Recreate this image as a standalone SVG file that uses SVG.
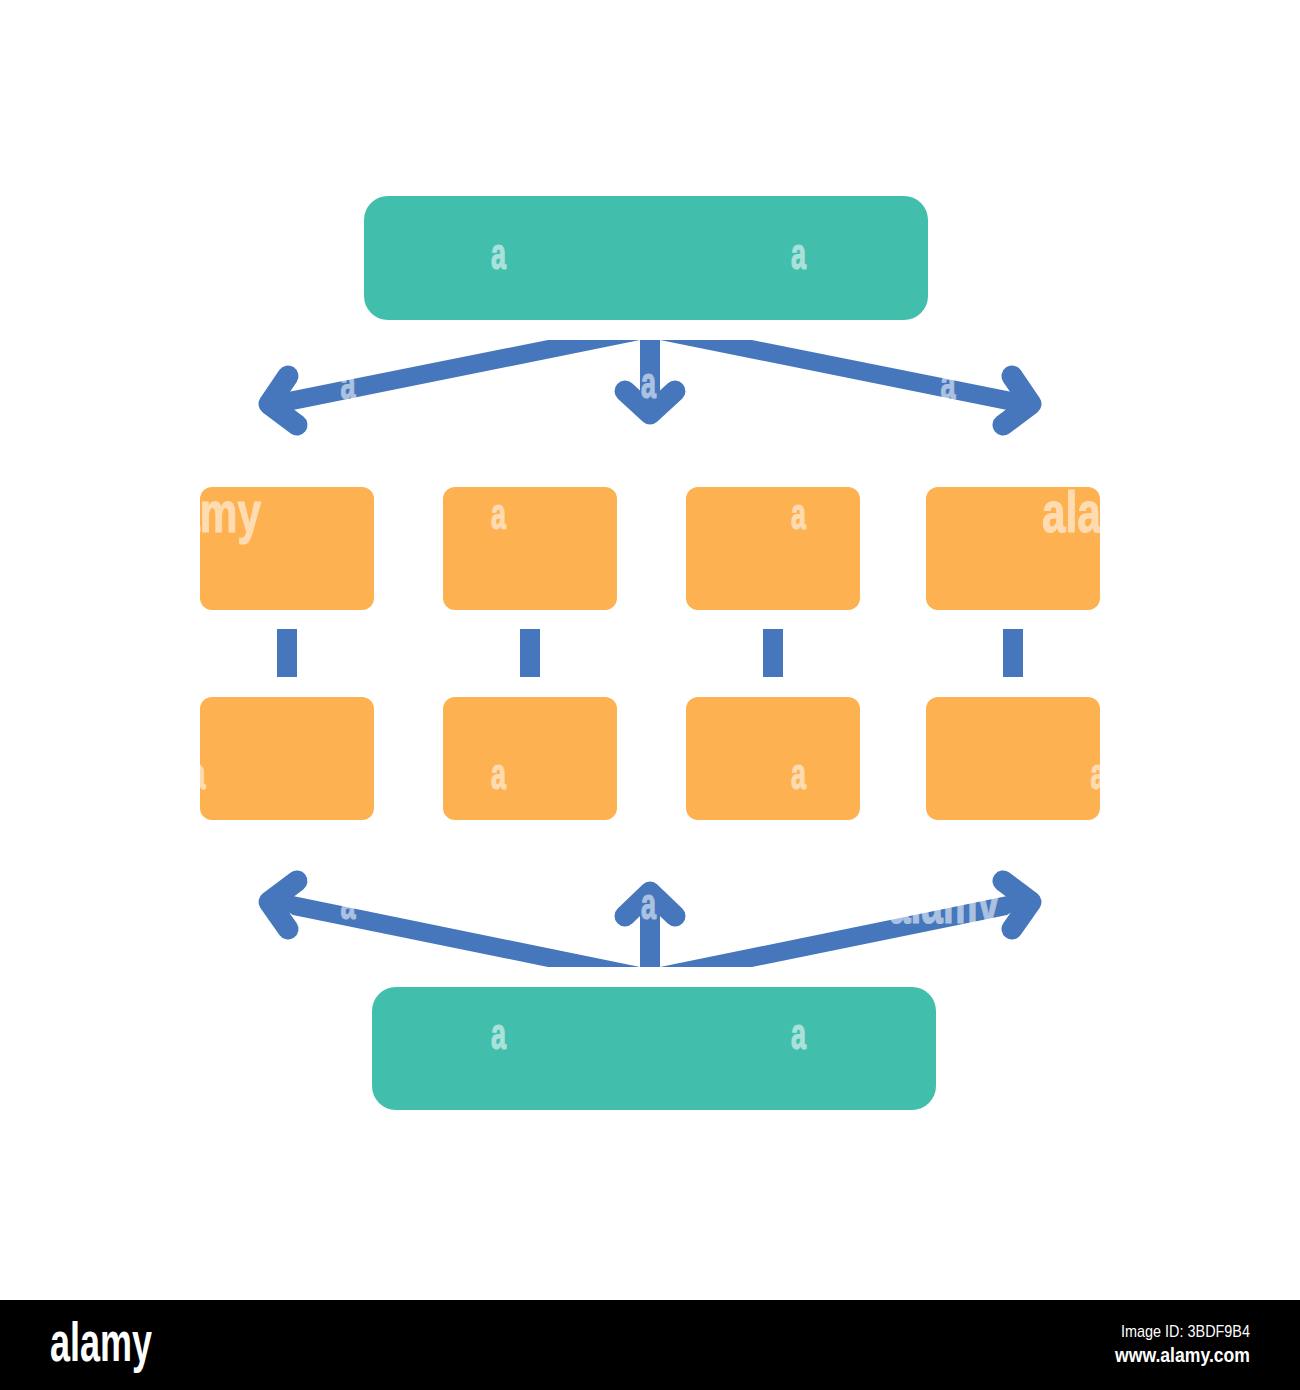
<svg xmlns="http://www.w3.org/2000/svg" width="1300" height="1390" viewBox="0 0 1300 1390">
<style>
.teal{fill:#42BEAD}
.orange{fill:#FDB150}
.blue{fill:#4676BC}
.head{fill:none;stroke:#4676BC;stroke-width:21;stroke-linecap:round;stroke-linejoin:round}
.wm{font-family:"Liberation Sans",Arial,sans-serif;font-weight:700;fill:#fff;stroke:#fff;stroke-width:1.2;opacity:.55}
.a{font-size:44px;text-anchor:middle}
.big{font-size:58px}
.foot{font-family:"Liberation Sans",Arial,sans-serif;fill:#fff}
</style>
<defs>
<clipPath id="c1"><rect x="200" y="487" width="174" height="123" rx="12"/></clipPath>
<clipPath id="c2"><rect x="926" y="487" width="174" height="123" rx="12"/></clipPath>
<clipPath id="c3"><rect x="200" y="697" width="174" height="123" rx="12"/></clipPath>
<clipPath id="c4"><rect x="926" y="697" width="174" height="123" rx="12"/></clipPath>
</defs>
<rect width="1300" height="1390" fill="#fff"/>
<g id="top-node"><rect class="teal" x="364" y="196" width="564" height="124" rx="24"/>
<text class="wm a" x="498.500" y="269" textLength="15" lengthAdjust="spacingAndGlyphs">a</text><text class="wm a" x="798.500" y="269" textLength="15" lengthAdjust="spacingAndGlyphs">a</text></g>
<g id="bottom-node"><rect class="teal" x="372" y="987" width="564" height="123" rx="24"/>
<text class="wm a" x="498.500" y="1049" textLength="15" lengthAdjust="spacingAndGlyphs">a</text><text class="wm a" x="798.500" y="1049" textLength="15" lengthAdjust="spacingAndGlyphs">a</text></g>
<g id="box-1-1"><rect class="orange" x="200" y="487" width="174" height="123" rx="12"/>
<text class="wm big" clip-path="url(#c1)" x="141" y="532" textLength="120" lengthAdjust="spacingAndGlyphs">alamy</text></g>
<g id="box-1-2"><rect class="orange" x="443" y="487" width="174" height="123" rx="12"/>
<text class="wm a" x="498.500" y="529" textLength="15" lengthAdjust="spacingAndGlyphs">a</text></g>
<g id="box-1-3"><rect class="orange" x="686" y="487" width="174" height="123" rx="12"/>
<text class="wm a" x="798.500" y="529" textLength="15" lengthAdjust="spacingAndGlyphs">a</text></g>
<g id="box-1-4"><rect class="orange" x="926" y="487" width="174" height="123" rx="12"/>
<text class="wm big" clip-path="url(#c2)" x="1042" y="532" textLength="120" lengthAdjust="spacingAndGlyphs">alamy</text></g>
<g id="box-2-1"><rect class="orange" x="200" y="697" width="174" height="123" rx="12"/>
<text class="wm a" clip-path="url(#c3)" x="198" y="789" textLength="15" lengthAdjust="spacingAndGlyphs">a</text></g>
<g id="box-2-2"><rect class="orange" x="443" y="697" width="174" height="123" rx="12"/>
<text class="wm a" x="498.500" y="789" textLength="15" lengthAdjust="spacingAndGlyphs">a</text></g>
<g id="box-2-3"><rect class="orange" x="686" y="697" width="174" height="123" rx="12"/>
<text class="wm a" x="798.500" y="789" textLength="15" lengthAdjust="spacingAndGlyphs">a</text></g>
<g id="box-2-4"><rect class="orange" x="926" y="697" width="174" height="123" rx="12"/>
<text class="wm a" clip-path="url(#c4)" x="1098" y="789" textLength="15" lengthAdjust="spacingAndGlyphs">a</text></g>
<g id="connectors">
<rect class="blue" x="277" y="629" width="20" height="48"/>
<rect class="blue" x="520" y="629" width="20" height="48"/>
<rect class="blue" x="763" y="629" width="20" height="48"/>
<rect class="blue" x="1003" y="629" width="20" height="48"/>
<polygon class="blue" points="548,340 640,340 293,410 270,405 288,392"/>
<polyline class="head" points="288,376 269,404 297,425"/>
<rect class="blue" x="640" y="340" width="20" height="75"/>
<polyline class="head" points="625,391 650,414 675,391"/>
<polygon class="blue" points="752,340 660,340 1007,410 1030,405 1012,392"/>
<polyline class="head" points="1012,376 1031,404 1003,425"/>
<polygon class="blue" points="640,967 288,895 270,901 293,915 548,967"/>
<polyline class="head" points="297,881 269,902 288,929"/>
<rect class="blue" x="640" y="892" width="20" height="75"/>
<polyline class="head" points="625,916 650,892 675,916"/>
<polygon class="blue" points="660,967 1012,895 1030,901 1007,915 752,967"/>
<polyline class="head" points="1003,881 1031,902 1012,929"/>
<text class="wm a" x="348" y="399" textLength="15" lengthAdjust="spacingAndGlyphs">a</text>
<text class="wm a" x="648.500" y="398" textLength="15" lengthAdjust="spacingAndGlyphs">a</text>
<text class="wm a" x="948" y="399" textLength="15" lengthAdjust="spacingAndGlyphs">a</text>
<text class="wm a" x="348" y="919" textLength="15" lengthAdjust="spacingAndGlyphs">a</text>
<text class="wm a" x="648.500" y="919" textLength="15" lengthAdjust="spacingAndGlyphs">a</text>
<text class="wm big" x="889" y="923" textLength="110" lengthAdjust="spacingAndGlyphs">alamy</text>
</g>
<g id="footer"><rect x="0" y="1300" width="1300" height="90" fill="#000"/>
<text class="foot" x="50" y="1361" font-size="56" font-weight="700" textLength="102" lengthAdjust="spacingAndGlyphs">alamy</text>
<text class="foot" x="1121" y="1337" font-size="17" textLength="129" lengthAdjust="spacingAndGlyphs">Image ID: 3BDF9B4</text>
<text class="foot" x="1115" y="1362" font-size="20" font-weight="700" textLength="135" lengthAdjust="spacingAndGlyphs">www.alamy.com</text>
</g>
</svg>
